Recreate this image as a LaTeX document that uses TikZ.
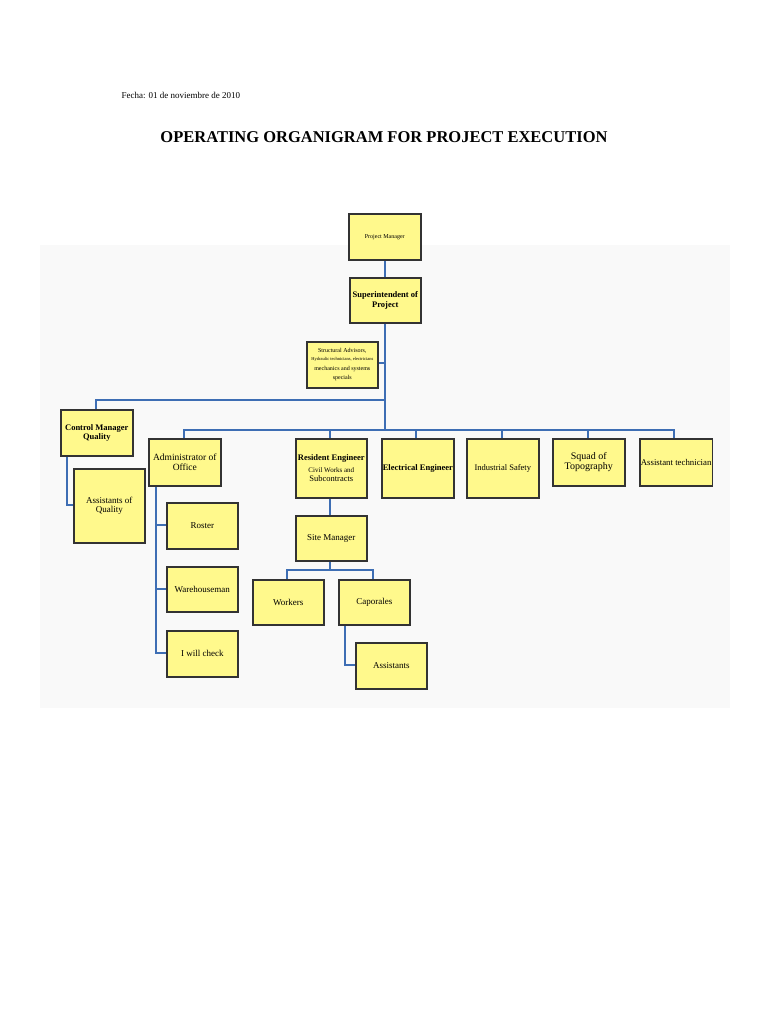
\documentclass[tikz,border=0pt]{standalone}
\usepackage{fontspec}
\setmainfont{Liberation Serif}
\begin{document}
\begin{tikzpicture}[x=1pt,y=-1pt,
  box/.style={draw=black!80,line width=1.6pt,fill=yellow!45,anchor=north west,inner sep=1pt,align=center,font=\fontsize{8.5}{9.5}\selectfont},
  conn/.style={line width=1.6pt,color={rgb,255:red,62;green,110;blue,180}}]
\useasboundingbox (0,0) rectangle (768,1024);
\fill[gray!5] (40,245) rectangle (730,708);
\node[anchor=west,font=\fontsize{9}{10}\selectfont] (fecha) at (118,95) {Fecha: 01 de noviembre de 2010};
\node[font=\fontsize{16.5}{18}\selectfont\bfseries] (title) at (384,137) {OPERATING ORGANIGRAM FOR PROJECT EXECUTION};
\newcommand\bx[6]{\node[box,minimum width=#4-#2,minimum height=#5-#3] (#1) at (#2,#3) {#6};}
% connectors
\coordinate (t1) at (385,400); \coordinate (t2) at (385,430);
\draw[conn] (385,259) -- (t2);
\draw[conn] (377,363) -- (385,363);
\draw[conn] (96,409) |- (t1);
\draw[conn] (184,438) -- (184,430) -- (674,430) -- (674,438);
\foreach \x in {330,416,502,588} \draw[conn] (\x,430) -- (\x,438);
\draw[conn] (67,455) |- (73,505);
\draw[conn] (156,485) |- (166,653);
\draw[conn] (156,525) -- (166,525);
\draw[conn] (156,589) -- (166,589);
\draw[conn] (330,497) -- (330,515);
\draw[conn] (330,560) -- (330,570);
\draw[conn] (287,579) |- (373,570) -- (373,579);
\draw[conn] (345,624) |- (355,665);
% boxes
\bx{pm}{348}{213}{420}{259}{\fontsize{6}{7}\selectfont Project Manager}
\bx{sup}{349}{277}{420}{322}{\bfseries Superintendent of\\ \bfseries Project}
\bx{adv}{306}{341}{377}{387}{\fontsize{6}{7}\selectfont Structural Advisors,\\[-1pt] {\fontsize{4.5}{5}\selectfont Hydraulic technicians, electricians}\\ \fontsize{6}{7}\selectfont mechanics and systems\\ \fontsize{6}{7}\selectfont specials}
\bx{cmq}{60}{409}{132}{455}{\bfseries Control Manager\\ \bfseries Quality}
\bx{aq}{73}{468}{144}{542}{\fontsize{9}{10}\selectfont Assistants of\\ \fontsize{9}{10}\selectfont Quality}
\bx{adm}{148}{438}{220}{485}{\fontsize{9.5}{10.5}\selectfont Administrator of\\ \fontsize{9.5}{10.5}\selectfont Office}
\bx{ros}{166}{502}{237}{548}{\fontsize{9}{10}\selectfont Roster}
\bx{wh}{166}{566}{237}{611}{\fontsize{9}{10}\selectfont Warehouseman}
\bx{iwc}{166}{630}{237}{676}{\fontsize{9}{10}\selectfont I will check}
\bx{re}{295}{438}{366}{497}{\bfseries Resident Engineer\\[2pt] {\fontsize{7}{8}\selectfont Civil Works and}\\ Subcontracts}
\bx{ee}{381}{438}{452}{497}{\bfseries Electrical Engineer}
\bx{is}{466}{438}{538}{497}{Industrial Safety}
\bx{sq}{552}{438}{624}{485}{\fontsize{10}{10.5}\selectfont Squad of\\ \fontsize{10}{10.5}\selectfont Topography}
\bx{at}{639}{438}{710}{485}{\fontsize{8.8}{9}\selectfont Assistant technician}
\bx{sm}{295}{515}{366}{560}{\fontsize{9}{10}\selectfont Site Manager}
\bx{wk}{252}{579}{323}{624}{\fontsize{9}{10}\selectfont Workers}
\bx{cap}{338}{579}{409}{624}{\fontsize{9}{10}\selectfont Caporales}
\bx{as}{355}{642}{426}{688}{\fontsize{9}{10}\selectfont Assistants}
\end{tikzpicture}
\end{document}
